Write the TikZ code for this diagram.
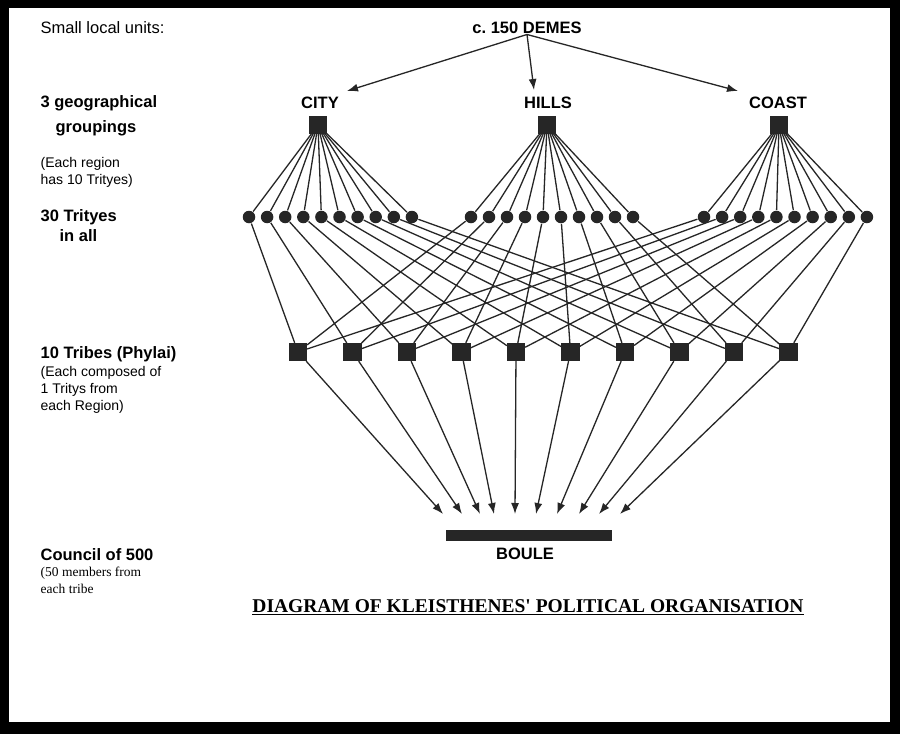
\documentclass[tikz,border=0pt]{standalone}
\usepackage{fontspec}
\setmainfont{Liberation Serif}
\setsansfont{Liberation Sans}
\usetikzlibrary{arrows.meta}

\tikzset{
  box/.style={draw=black!85,fill=black!85,minimum size=16pt,inner sep=0pt},
  tribebox/.style={box,minimum size=17pt},
  dot/.style={circle,fill=black!85,minimum size=12.5pt,inner sep=0pt},
  arr/.style={-{Latex[length=11pt,width=8pt]}},
  head/.style={inner sep=0pt,font=\sffamily\bfseries\fontsize{16.5}{19}\selectfont},
  side/.style={anchor=west,inner sep=0pt,font=\sffamily\bfseries\fontsize{16.5}{19}\selectfont},
  note/.style={anchor=west,inner sep=0pt,font=\sffamily\fontsize{14}{17}\selectfont},
  rnote/.style={anchor=west,inner sep=0pt,font=\rmfamily\fontsize{13.5}{16}\selectfont},
}

\begin{document}
\begin{tikzpicture}[x=1pt,y=-1pt,line width=1.3pt,draw=black!85]
  % frame
  \fill[black] (0,0) rectangle (900,734);
  \fill[white] (9,8) rectangle (890,722);

  % left column
  \node[note,font=\sffamily\fontsize{16.5}{19}\selectfont] (units) at (40,28) {Small local units:};
  \node[side] (geo) at (40,103) {3 geographical};
  \node[side] (grp) at (55,128) {groupings};
  \node[note] (reg1) at (40,164) {(Each region};
  \node[note] (reg2) at (40,181) {has 10 Trityes)};
  \node[side] (trit) at (40,217) {30 Trityes};
  \node[side] (inall) at (59,236) {in all};
  \node[side] (tribes) at (40,354) {10 Tribes (Phylai)};
  \node[note] (comp1) at (40,373) {(Each composed of};
  \node[note] (comp2) at (40,390) {1 Tritys from};
  \node[note] (comp3) at (40,407) {each Region)};
  \node[side] (council) at (40,555) {Council of 500};
  \node[rnote] (memb1) at (40,573) {(50 members from};
  \node[rnote] (memb2) at (40,589) {each tribe};

  % demes and regions
  \node[head] (demes) at (527,28) {c.\ 150 DEMES};
  \node[head] (citylbl) at (320,103) {CITY};
  \node[head] (hillslbl) at (548,103) {HILLS};
  \node[head] (coastlbl) at (778,103) {COAST};
  \node[box] (city) at (318,125) {};
  \node[box] (hills) at (547,125) {};
  \node[box] (coast) at (779,125) {};
  \coordinate (cityend) at (347,91);
  \coordinate (hillsend) at (534,90);
  \coordinate (coastend) at (738,91);
  \draw[arr] (demes.south) -- (cityend);
  \draw[arr] (demes.south) -- (hillsend);
  \draw[arr] (demes.south) -- (coastend);

  % trittyes
  \foreach \i in {1,...,10} {
    \node[dot] (c\i) at ({249+18.1*(\i-1)},217) {};
    \node[dot] (h\i) at ({471+18*(\i-1)},217) {};
    \node[dot] (k\i) at ({704+18.1*(\i-1)},217) {};
    \draw (city) -- (c\i);
    \draw (hills) -- (h\i);
    \draw (coast) -- (k\i);
  }

  % tribes, one trittys from each region
  \foreach \i in {1,...,10} {
    \node[tribebox] (t\i) at ({298+54.5*(\i-1)},352) {};
    \draw (c\i) -- (t\i);
    \draw (h\i) -- (t\i);
    \draw (k\i) -- (t\i);
  }

  % boule
  \node[fill=black!85,minimum width=166pt,minimum height=11pt,inner sep=0pt] (boule) at (529,535.5) {};
  \node[head] (boulelbl) at (525,554) {BOULE};
  \foreach \i/\x in {1/443,2/462,3/480,4/494,5/515,6/536,7/557,8/579,9/599,10/620} {
    \coordinate (tip\i) at (\x,514);
    \draw[arr] (t\i) -- (tip\i);
  }

  % title
  \node[font=\rmfamily\bfseries\fontsize{19.5}{22}\selectfont,inner sep=0pt] (title) at (528,607)
    {\underline{DIAGRAM OF KLEISTHENES\textquotesingle\ POLITICAL ORGANISATION}};
\end{tikzpicture}
\end{document}
